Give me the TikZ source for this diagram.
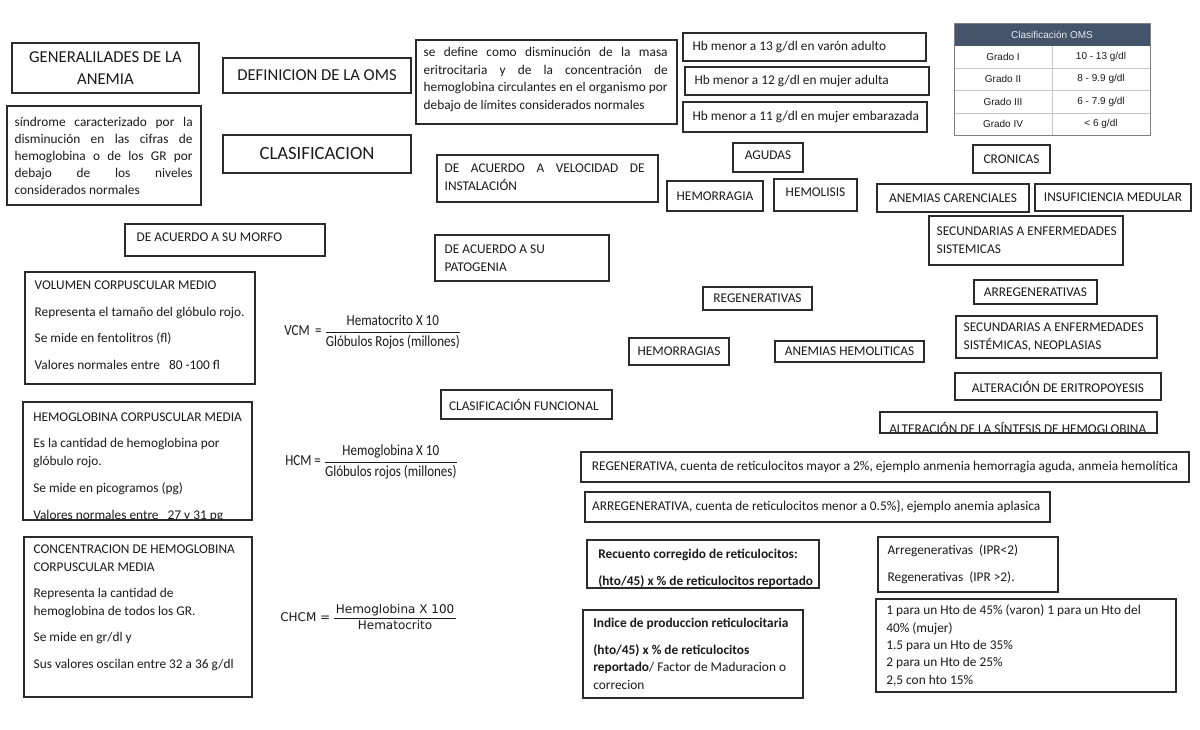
\documentclass[tikz,border=0pt]{standalone}
\usepackage{fontspec}
\setmainfont{Carlito}
\newfontfamily\tablaf{Liberation Sans}
\newfontfamily\formf[FakeStretch=0.85]{Carlito}
\newfontfamily\verdf{DejaVu Sans}
\usetikzlibrary{fit, backgrounds, positioning}
\definecolor{borde}{HTML}{2B2B2B}
\definecolor{texto}{HTML}{1A1A1A}
\definecolor{cabecera}{HTML}{44546A}
\definecolor{cabtexto}{HTML}{E6EAF0}
\definecolor{rejilla}{HTML}{C8C8C8}
\definecolor{marco}{HTML}{7F7F7F}
\tikzset{
  % caja con borde, ajustada a dos esquinas
  caja/.style={draw=borde, line width=0.9pt, inner sep=0pt},
  % texto de una o varias lineas dentro de una caja
  txt/.style={inner sep=0pt, align=left, text=texto,
    font=\fontsize{10}{13.3}\selectfont},
  % titulos grandes
  titulo/.style={txt, align=center, font=\fontsize{12.5}{16.5}\selectfont},
  % formulas de los indices
  formula/.style={inner sep=0pt, anchor=west, text=texto,
    font=\formf\fontsize{11.5}{13}\selectfont},
  % celdas de la tabla OMS
  celda/.style={inner sep=0pt, text=texto, font=\tablaf\fontsize{7.5}{9}\selectfont},
}

\begin{document}
\begin{tikzpicture}[x=0.75pt, y=-0.75pt]
  \useasboundingbox (0,0) rectangle (1200,729);
  \fill[white] (0,0) rectangle (1200,729);

  % generalidades y definicion
  \node[caja, fit={(12,43) (199,93)}] (general) {};
  \node[titulo] (generalt) at (general.center) {GENERALILADES DE LA\\ANEMIA};
  \node[caja, fit={(7,106) (201,205)}] (sindrome) {};
  \node[txt, font=\fontsize{10}{12.75}\selectfont, right=6pt of sindrome.west] (sindromet)
    {\makebox[133.5pt][s]{síndrome caracterizado por la}\\
     \makebox[133.5pt][s]{disminución en las cifras de}\\
     \makebox[133.5pt][s]{hemoglobina o de los GR por}\\
     \makebox[133.5pt][s]{debajo de los niveles}\\
     considerados normales};
  \node[caja, fit={(223,58) (411,93)}] (defoms) {};
  \node[titulo] (defomst) at (defoms.center) {DEFINICION DE LA OMS};
  \node[caja, fit={(223,135) (411,173)}] (clasif) {};
  \node[titulo, font=\fontsize{14}{16}\selectfont] (clasift) at (clasif.center) {CLASIFICACION};
  \node[caja, fit={(416,40) (677,124)}] (masa) {};
  \node[txt, font=\fontsize{10}{13.1}\selectfont, right=6pt of masa.west, yshift=1.9pt] (masat)
    {\makebox[183pt][s]{se define como disminución de la masa}\\
     \makebox[183pt][s]{eritrocitaria y de la concentración de}\\
     \makebox[183pt][s]{hemoglobina circulantes en el organismo por}\\
     debajo de límites considerados normales};

  % valores de la OMS
  \node[caja, fit={(683,33) (926,61)}] (hbvaron) {};
  \node[txt, right=7.5pt of hbvaron.west] (hbvaront) {Hb menor a 13 g/dl en varón adulto};
  \node[caja, fit={(685,67) (929,95)}] (hbmujer) {};
  \node[txt, right=7.5pt of hbmujer.west] (hbmujert) {Hb menor a 12 g/dl en mujer adulta};
  \node[caja, fit={(683,102) (927,132)}] (hbemb) {};
  \node[txt, right=7.5pt of hbemb.west] (hbembt) {Hb menor a 11 g/dl en mujer embarazada};

  % tabla clasificacion OMS
  \fill[cabecera] (954,23) rectangle (1150,46);
  \node[celda, text=cabtexto] (omstit) at (1052,34.5) {Clasificación OMS};
  \foreach \g/\v [count=\i] in {I/10 - 13, II/8 - 9.9, III/6 - 7.9, IV/< 6} {
    \node[celda] (grado\i) at (1003,{57.1+22.3*(\i-1)}) {Grado \g};
    \node[celda] (valor\i) at (1101,{57.1+22.3*(\i-1)}) {\v{} g/dl};
  }
  \foreach \y in {68.3,90.6,112.9} \draw[rejilla, line width=0.6pt] (954,\y) -- (1150,\y);
  \draw[rejilla, line width=0.6pt] (1052,46) -- (1052,135);
  \draw[marco, line width=0.7pt] (954,23) rectangle (1150,135);

  % velocidad de instalacion
  \node[caja, fit={(437,155) (658,202)}] (velocidad) {};
  \node[txt, font=\fontsize{10}{13.5}\selectfont, right=6pt of velocidad.west, yshift=1pt] (velocidadt)
    {\makebox[150pt][s]{DE ACUERDO A VELOCIDAD DE}\\INSTALACIÓN};
  \node[caja, fit={(733,143) (803,172)}] (agudas) {};
  \node[txt, yshift=1.5pt] (agudast) at (agudas.center) {AGUDAS};
  \node[caja, fit={(973,145) (1050,173)}] (cronicas) {};
  \node[txt] (cronicast) at (cronicas.center) {CRONICAS};
  \node[caja, fit={(667,181) (763,211)}] (hemorragia) {};
  \node[txt] (hemorragiat) at (hemorragia.center) {HEMORRAGIA};
  \node[caja, fit={(774,179) (857,211)}] (hemolisis) {};
  \node[txt, yshift=2pt] (hemolisist) at (hemolisis.center) {HEMOLISIS};
  \node[caja, fit={(877,184) (1029,212)}] (carenciales) {};
  \node[txt] (carencialest) at (carenciales.center) {ANEMIAS CARENCIALES};
  \node[caja, fit={(1035,184) (1191,211)}] (medular) {};
  \node[txt] (medulart) at (medular.center) {INSUFICIENCIA MEDULAR};
  \node[caja, fit={(929,216) (1123,265)}] (sistemicas) {};
  \node[txt, right=6pt of sistemicas.west] (sistemicast) {SECUNDARIAS A ENFERMEDADES\\SISTEMICAS};

  % patogenia
  \node[caja, fit={(125,224) (325,256)}] (morfo) {};
  \node[txt, right=9pt of morfo.west, yshift=2pt] (morfot) {DE ACUERDO A SU MORFO};
  \node[caja, fit={(435,235) (609,281)}] (patogenia) {};
  \node[txt, font=\fontsize{10}{13.5}\selectfont, right=7.5pt of patogenia.west] (patogeniat)
    {DE ACUERDO A SU\\PATOGENIA};
  \node[caja, fit={(974,280) (1097,304)}] (arregen) {};
  \node[txt] (arregent) at (arregen.center) {ARREGENERATIVAS};
  \node[caja, fit={(703,287) (812,310)}] (regen) {};
  \node[txt] (regent) at (regen.center) {REGENERATIVAS};
  \node[caja, fit={(956,316) (1157,358)}] (neoplasias) {};
  \node[txt, font=\fontsize{10}{13.5}\selectfont, right=6pt of neoplasias.west] (neoplasiast)
    {SECUNDARIAS A ENFERMEDADES\\SISTÉMICAS, NEOPLASIAS};
  \node[caja, fit={(629,338) (729,365)}] (hemorragias) {};
  \node[txt] (hemorragiast) at (hemorragias.center) {HEMORRAGIAS};
  \node[caja, fit={(775,341) (924,362)}] (hemoliticas) {};
  \node[txt] (hemoliticast) at (hemoliticas.center) {ANEMIAS HEMOLITICAS};
  \node[caja, fit={(955,373) (1161,400)}] (eritro) {};
  \node[txt] (eritrot) at (eritro.center) {ALTERACIÓN DE ERITROPOYESIS};
  \node[caja, fit={(441,390) (612,419)}] (funcional) {};
  \node[txt, xshift=-2pt] (funcionalt) at (funcional.center) {CLASIFICACIÓN FUNCIONAL};
  \begin{scope}
    \clip (880,412) rectangle (1157,433);
    \node[txt, anchor=base west] (sintesist) at (889,433.5) {ALTERACIÓN DE LA SÍNTESIS DE HEMOGLOBINA};
  \end{scope}
  \node[caja, fit={(880,412) (1157,433)}] (sintesis) {};

  % indices eritrocitarios
  \node[caja, fit={(25,272) (255,384)}] (vcm) {};
  \node[txt, right=7.5pt of vcm.west, yshift=2pt] (vcmt)
    {VOLUMEN CORPUSCULAR MEDIO\\[6.7pt]Representa el tamaño del glóbulo rojo.\\[6.7pt]
     Se mide en fentolitros (fl)\\[6.7pt]Valores normales entre~~ 80 -100 fl};
  \begin{scope}
    \clip (23,402) rectangle (252,520);
    \node[txt, anchor=base west] (hcmt) at (33,519.5)
      {HEMOGLOBINA CORPUSCULAR MEDIA\\[6.6pt]Es la cantidad de hemoglobina por\\glóbulo rojo.\\[7pt]
       Se mide en picogramos (pg)\\[7pt]Valores normales entre~~ 27 y 31 pg};
  \end{scope}
  \node[caja, fit={(23,402) (252,520)}] (hcm) {};
  \node[caja, fit={(24,537) (252,697)}] (chcm) {};
  \node[txt, anchor=north west, below right=6.4pt and 7.5pt of chcm.north west] (chcmt)
    {CONCENTRACION DE HEMOGLOBINA\\CORPUSCULAR MEDIA\\[6.4pt]Representa la cantidad de\\
     hemoglobina de todos los GR.\\[6.4pt]Se mide en gr/dl y\\[7pt]Sus valores oscilan entre 32 a 36 g/dl};

  % formulas
  \node[formula] (fvcm) at (284,332)
    {VCM\, =\,$\displaystyle\frac{\mbox{Hematocrito X 10}}{\mbox{Glóbulos Rojos (millones)}}$};
  \node[formula] (fhcm) at (285,462)
    {HCM =\,$\displaystyle\frac{\mbox{Hemoglobina X 10}}{\mbox{Glóbulos rojos (millones)}}$};
  \node[formula, font=\verdf\fontsize{9}{11}\selectfont] (fchcm) at (280,617)
    {CHCM =\,$\displaystyle\frac{\mbox{\,Hemoglobina X 100\,}}{\mbox{Hematocrito}}$};

  % clasificacion funcional
  \node[caja, fit={(581,452) (1189,482)}] (regenlarga) {};
  \node[txt] (regenlargat) at (regenlarga.center)
    {REGENERATIVA, cuenta de reticulocitos mayor a 2\%, ejemplo anmenia hemorragia aguda, anmeia hemolítica};
  \node[caja, fit={(585,492) (1050,522)}] (arregenlarga) {};
  \node[txt, xshift=-1pt] (arregenlargat) at (arregenlarga.center)
    {ARREGENERATIVA, cuenta de reticulocitos menor a 0.5\%\}, ejemplo anemia aplasica};
  \begin{scope}
    \clip (587,540) rectangle (819,588);
    \node[txt, anchor=base west, font=\bfseries\fontsize{10}{13.3}\selectfont] (recuentot) at (598,585)
      {Recuento corregido de reticulocitos:\\[6.5pt](hto/45) x \% de reticulocitos reportado};
  \end{scope}
  \node[caja, fit={(587,540) (819,588)}] (recuento) {};
  \node[caja, fit={(878,537) (1058,592)}] (ipr) {};
  \node[txt, right=7.5pt of ipr.west] (iprt)
    {Arregenerativas~ (IPR<2)\\[7pt]Regenerativas~ (IPR >2).};
  \node[caja, fit={(583,610) (803,698)}] (indice) {};
  \node[txt, right=8pt of indice.west] (indicet)
    {\textbf{Indice de produccion reticulocitaria}\\[6.5pt]\textbf{(hto/45) x \% de reticulocitos}\\
     \textbf{reportado}/ Factor de Maduracion o\\correcion};
  \node[caja, fit={(876,599) (1176,692)}] (factor) {};
  \node[txt, font=\fontsize{10}{13}\selectfont, right=8pt of factor.west] (factort)
    {1 para un Hto de 45\% (varon) 1 para un Hto del\\40\% (mujer)\\1.5 para un Hto de 35\%\\
     2 para un Hto de 25\%\\2,5 con hto 15\%};
\end{tikzpicture}
\end{document}
